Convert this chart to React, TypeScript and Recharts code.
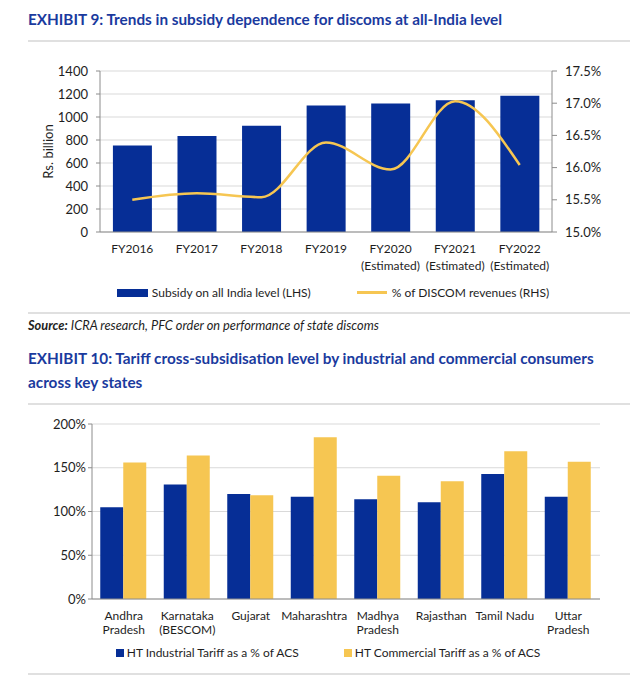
import React from "react";
import {
  ComposedChart,
  BarChart,
  Bar,
  Line,
  XAxis,
  YAxis,
  CartesianGrid,
  Legend,
} from "recharts";

// Exhibit 9: subsidy dependence
const fyLabels = [
  "FY2016",
  "FY2017",
  "FY2018",
  "FY2019",
  "FY2020\n(Estimated)",
  "FY2021\n(Estimated)",
  "FY2022\n(Estimated)",
];
const subsidyBn = [752, 834, 925, 1100, 1117, 1146, 1184];
const pctRevenue = [15.5, 15.6, 15.54, 16.39, 15.97, 17.03, 16.04];
const lhsTicks = [0, 200, 400, 600, 800, 1000, 1200, 1400];
const rhsTicks = [15, 15.5, 16, 16.5, 17, 17.5];

// Exhibit 10: tariff cross-subsidisation
const states = [
  "Andhra\nPradesh",
  "Karnataka\n(BESCOM)",
  "Gujarat",
  "Maharashtra",
  "Madhya\nPradesh",
  "Rajasthan",
  "Tamil Nadu",
  "Uttar\nPradesh",
];
const industrialPct = [105, 131, 120, 117, 114, 110.5, 143, 117];
const commercialPct = [156, 164, 118.5, 185, 141, 134.5, 169, 157];
const pctTicks = [0, 50, 100, 150, 200];

const BLUE = "#062e96";
const YELLOW = "#f6c652";
const TITLE = "#1a3a9e";
const AXIS = "#8c8c8c";
const GRID = "#d9d9d9";
const TEXT = "#1e1e1e";
const FONT = "Lato, 'Noto Sans', sans-serif";

const subsidyData = fyLabels.map((fy, i) => ({
  fy,
  subsidy: subsidyBn[i],
  pct: pctRevenue[i],
}));

const tariffData = states.map((state, i) => ({
  state,
  industrial: industrialPct[i],
  commercial: commercialPct[i],
}));

// two-line category labels
const MultiTick = (props: any) => {
  const { x, y, payload, fontSize, lineHeight } = props;
  const lines = String(payload.value).split("\n");
  return (
    <text x={x} y={y} textAnchor="middle" fill={TEXT} fontSize={fontSize} fontFamily={FONT}>
      {lines.map((l, i) => (
        <tspan key={i} x={x} dy={i === 0 ? "0.71em" : lineHeight}>
          {l}
        </tspan>
      ))}
    </text>
  );
};

const SubsidyLegend = () => (
  <div style={{ display: "flex", justifyContent: "center", gap: 46, fontSize: 12, color: TEXT, fontFamily: FONT, paddingLeft: 14 }}>
    <span style={{ display: "flex", alignItems: "center" }}>
      <span style={{ width: 31, height: 8, background: BLUE, marginRight: 4 }} />
      Subsidy on all India level (LHS)
    </span>
    <span style={{ display: "flex", alignItems: "center" }}>
      <span style={{ width: 30, height: 2.5, background: YELLOW, marginRight: 5 }} />
      % of DISCOM revenues (RHS)
    </span>
  </div>
);

const TariffLegend = () => (
  <div style={{ display: "flex", justifyContent: "center", gap: 45, fontSize: 12, color: TEXT, fontFamily: FONT, paddingLeft: 14 }}>
    <span style={{ display: "flex", alignItems: "center" }}>
      <span style={{ width: 8, height: 8, background: BLUE, marginRight: 3 }} />
      HT Industrial Tariff as a % of ACS
    </span>
    <span style={{ display: "flex", alignItems: "center" }}>
      <span style={{ width: 8, height: 8, background: YELLOW, marginRight: 3 }} />
      HT Commercial Tariff as a % of ACS
    </span>
  </div>
);

const rule = (top: number) => (
  <div style={{ position: "absolute", left: 28, top, width: 602, height: 2, background: "#e0e0e0" }} />
);

export default function App() {
  const boundaries1 = fyLabels.map((_, i) => i).concat(fyLabels.length);
  const boundaries2 = states.map((_, i) => i).concat(states.length);

  return (
    <div
      style={{
        position: "absolute",
        left: 0,
        top: 0,
        width: 640,
        height: 680,
        background: "#fff",
        fontFamily: FONT,
        color: TEXT,
      }}
    >
      <div style={{ position: "absolute", left: 28, top: 10, fontSize: 15.3, fontWeight: 700, color: TITLE, whiteSpace: "nowrap" }}>
        EXHIBIT 9: Trends in subsidy dependence for discoms at all-India level
      </div>
      {rule(40)}

      <div style={{ position: "absolute", left: 0, top: 50 }}>
        <ComposedChart
          width={640}
          height={272}
          data={subsidyData}
          margin={{ top: 21, right: 28, bottom: 17, left: 40 }}
          barCategoryGap="20%"
        >
          <CartesianGrid vertical={false} stroke={GRID} yAxisId="lhs" />
          <XAxis
            xAxisId="b"
            type="number"
            domain={[0, fyLabels.length]}
            ticks={boundaries1}
            allowDataOverflow
            height={0}
            axisLine={false}
            tick={false}
            tickLine={{ stroke: AXIS }}
            tickSize={5}
          />
          <XAxis
            dataKey="fy"
            interval={0}
            height={53}
            tickLine={false}
            tickSize={0}
            tickMargin={12}
            axisLine={{ stroke: AXIS }}
            tick={<MultiTick fontSize={12} lineHeight={17} />}
          />
          <YAxis
            yAxisId="lhs"
            width={60}
            domain={[0, 1400]}
            ticks={lhsTicks}
            interval={0}
            axisLine={{ stroke: AXIS }}
            tickLine={{ stroke: AXIS }}
            tickSize={4}
            tickMargin={8}
            tick={{ fill: TEXT, fontSize: 13, fontFamily: FONT }}
            label={{
              value: "Rs. billion",
              angle: -90,
              position: "insideLeft",
              offset: 8,
              style: { textAnchor: "middle", fill: TEXT, fontSize: 13, fontFamily: FONT },
            }}
          />
          <YAxis
            yAxisId="rhs"
            orientation="right"
            width={60}
            domain={[15, 17.5]}
            ticks={rhsTicks}
            interval={0}
            axisLine={{ stroke: AXIS }}
            tickLine={{ stroke: AXIS }}
            tickSize={5}
            tickMargin={8}
            tickFormatter={(v: number) => `${v.toFixed(1)}%`}
            tick={{ fill: TEXT, fontSize: 13, fontFamily: FONT }}
          />
          <Legend verticalAlign="bottom" height={20} content={<SubsidyLegend />} />
          <Bar yAxisId="lhs" dataKey="subsidy" fill={BLUE} isAnimationActive={false} />
          <Line
            yAxisId="rhs"
            type="monotone"
            dataKey="pct"
            stroke={YELLOW}
            strokeWidth={2.5}
            dot={false}
            isAnimationActive={false}
          />
        </ComposedChart>
      </div>

      {rule(312)}
      <div style={{ position: "absolute", left: 28, top: 317, fontSize: 12.8, fontStyle: "italic", whiteSpace: "nowrap" }}>
        <b>Source:</b> ICRA research, PFC order on performance of state discoms
      </div>

      <div
        style={{
          position: "absolute",
          left: 28,
          top: 346,
          width: 610,
          fontSize: 15.3,
          lineHeight: "24px",
          fontWeight: 700,
          color: TITLE,
        }}
      >
        EXHIBIT 10: Tariff cross-subsidisation level by industrial and commercial consumers
        <br />
        across key states
      </div>
      {rule(403)}

      <div style={{ position: "absolute", left: 0, top: 410 }}>
        <BarChart
          width={640}
          height={267}
          data={tariffData}
          margin={{ top: 14, right: 40, bottom: 12, left: 42 }}
          barCategoryGap="13%"
          barGap={0}
        >
          <CartesianGrid vertical={false} stroke={GRID} />
          <XAxis
            xAxisId="b"
            type="number"
            domain={[0, states.length]}
            ticks={boundaries2}
            allowDataOverflow
            height={0}
            axisLine={false}
            tick={false}
            tickLine={{ stroke: AXIS }}
            tickSize={5}
          />
          <XAxis
            dataKey="state"
            interval={0}
            height={46}
            tickLine={false}
            tickSize={0}
            tickMargin={12}
            axisLine={{ stroke: AXIS }}
            tick={<MultiTick fontSize={12} lineHeight={14} />}
          />
          <YAxis
            width={50}
            domain={[0, 200]}
            ticks={pctTicks}
            interval={0}
            axisLine={{ stroke: AXIS }}
            tickLine={{ stroke: AXIS }}
            tickSize={4}
            tickMargin={2}
            tickFormatter={(v: number) => `${v}%`}
            tick={{ fill: TEXT, fontSize: 13, fontFamily: FONT }}
          />
          <Legend verticalAlign="bottom" height={20} content={<TariffLegend />} />
          <Bar dataKey="industrial" fill={BLUE} isAnimationActive={false} />
          <Bar dataKey="commercial" fill={YELLOW} isAnimationActive={false} />
        </BarChart>
      </div>
      {rule(673)}
    </div>
  );
}
